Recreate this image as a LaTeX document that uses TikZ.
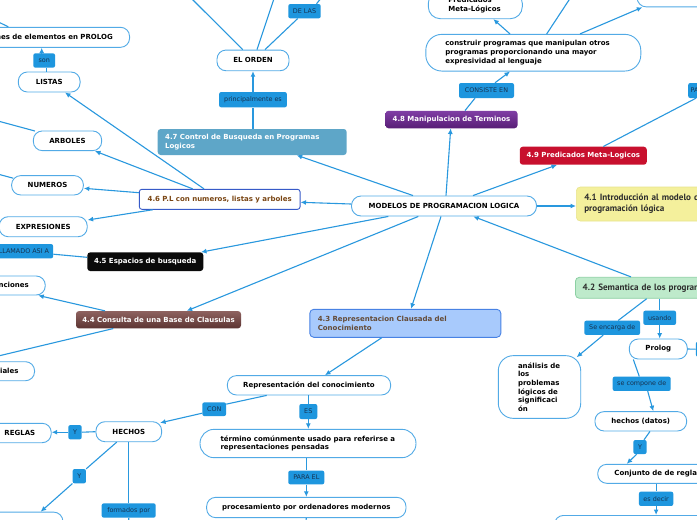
\documentclass[tikz,border=0pt]{standalone}
\usepackage{fontspec}
\newfontfamily\dvfam{DejaVu Sans}
\newfontfamily\ptfam{PT Sans}
\usetikzlibrary{arrows.meta,calc}
\definecolor{linecol}{RGB}{41,152,222}
\definecolor{nodeborder}{RGB}{82,170,230}
\definecolor{labblue}{RGB}{30,150,222}
\definecolor{labtext}{RGB}{22,50,80}
\definecolor{tealc}{RGB}{94,166,200}
\definecolor{purpT}{RGB}{128,62,165}
\definecolor{purpB}{RGB}{88,30,118}
\definecolor{redc}{RGB}{200,16,46}
\definecolor{blackc}{RGB}{10,10,10}
\definecolor{brT}{RGB}{142,98,95}
\definecolor{brB}{RGB}{92,52,50}
\definecolor{lbluec}{RGB}{168,202,252}
\definecolor{lblueb}{RGB}{72,130,228}
\definecolor{tfortythree}{RGB}{100,75,55}
\definecolor{yelc}{RGB}{244,240,156}
\definecolor{yelb}{RGB}{232,228,140}
\definecolor{greenc}{RGB}{190,234,203}
\definecolor{greenb}{RGB}{140,208,163}
\definecolor{darktext}{RGB}{45,45,45}
\definecolor{tfortysixb}{RGB}{55,90,200}
\definecolor{browntext}{RGB}{122,70,20}
\newcommand\mapfont{\dvfam\bfseries\fontsize{7}{8.7}\selectfont}
\newcommand\labfont{\dvfam\fontsize{6.4}{7.5}\selectfont}
\newcommand\ptbold{\ptfam\bfseries\fontsize{9.1}{11.3}\selectfont}
\begin{document}
\begin{tikzpicture}[x=1pt,y=-1pt,
  mnode/.style={draw=nodeborder, fill=white, line width=0.9pt, rounded corners=9pt,
     font=\mapfont, text=black, inner sep=0pt, align=center},
  lab/.style={fill=labblue, rounded corners=2pt, font=\labfont, text=labtext, inner sep=0pt},
  topicbox/.style={rounded corners=3pt, font=\mapfont, inner sep=0pt, align=center},
  conn/.style={draw=linecol, line width=1.1pt},
  arr/.style={conn, -{Latex[length=5.5pt,width=5pt]}}]
\clip (0,0) rectangle (697,520);
\fill[white] (0,0) rectangle (697,520);

% central and top-level topics
\node[mnode, rounded corners=9.5pt, minimum width=185pt, minimum height=20pt] (central) at (444,206) {MODELOS DE PROGRAMACION LOGICA};
\node[fill=yelc, draw=yelb, line width=0.6pt, rounded corners=4pt, font=\ptbold, text=darktext, anchor=west, inner xsep=8pt, inner ysep=0pt, text width=190pt, align=left, minimum height=34pt] (t41) at (576,204) {4.1 Introducción al modelo de\\programación lógica};
\node[topicbox, fill=redc, text=white, minimum width=127pt, minimum height=18pt] (t49) at (583.3,155.7) {4.9 Predicados Meta-Logicos};
\node[lab, anchor=west, inner xsep=2.5pt, minimum height=15pt] (labP) at (688,90.5) {PARA};
\node[topicbox, top color=purpT, bottom color=purpB, text=white, minimum width=132pt, minimum height=17.5pt] (t48) at (451.5,119.5) {4.8 Manipulacion de Terminos};
\node[lab, minimum width=55pt, minimum height=15pt] (labCons) at (486.5,90.5) {CONSISTE EN};
\node[mnode, rounded corners=16pt, text width=176pt, align=left, inner xsep=19.5pt, minimum height=36.7pt] (constr) at (533.3,52.7) {construir programas que manipulan otros\\programas proporcionando una mayor\\expresividad al lenguaje};
\node[mnode, rounded corners=12pt, text width=54pt, align=left, inner xsep=20pt, minimum height=27.4pt] (predm) at (475.3,5) {Predicados\\Meta-Lógicos};
\node[mnode, anchor=south west, minimum width=110pt, minimum height=20pt] (ansN) at (636.7,7.3) {};
\coordinate (c4) at (571,-3);

\node[topicbox, fill=tealc, text=white, text width=174pt, align=left, inner xsep=7.5pt, minimum height=26pt] (t47) at (252.2,142) {4.7 Control de Busqueda en Programas\\Logicos};
\node[lab, minimum width=67.7pt, minimum height=15.3pt] (labPrinc) at (253,99.7) {principalmente es};
\node[mnode, minimum width=72pt, minimum height=20.7pt] (elOrden) at (253,60.4) {EL ORDEN};
\node[lab, minimum width=32.4pt, minimum height=14.3pt] (labDeLas) at (304.5,11.2) {DE LAS};
\coordinate (c1) at (190,-3);
\coordinate (c2) at (274.5,-3);
\coordinate (c3) at (322,-3);

\node[mnode, draw=tfortysixb, rounded corners=2.5pt, text=browntext, minimum width=160.7pt, minimum height=20pt] (t46) at (219.7,199.3) {4.6 P.L con numeros, listas y arboles};
\node[mnode, minimum width=61.7pt, minimum height=20pt] (listas) at (49.2,82) {LISTAS};
\node[lab, minimum width=21.7pt, minimum height=14.3pt] (labSon) at (44.2,60.5) {son};
\node[mnode, anchor=east, inner xsep=16.7pt, minimum height=20pt] (colecc) at (130,37.3) {Colecciones de elementos en PROLOG};
\node[mnode, minimum width=68.3pt, minimum height=19.7pt] (arbol) at (67.5,140.8) {ARBOLES};
\node[mnode, minimum width=71.7pt, minimum height=19.3pt] (numer) at (47.5,185.3) {NUMEROS};
\node[mnode, minimum width=88pt, minimum height=20pt] (expr) at (43.2,226.7) {EXPRESIONES};
\coordinate (cL1) at (-5,20.3);
\coordinate (cL2) at (-5,120.2);
\coordinate (cL3) at (-5,173.3);

\node[topicbox, fill=blackc, text=white, minimum width=116pt, minimum height=18.7pt] (t45) at (145.3,261.7) {4.5 Espacios de busqueda};
\node[lab, anchor=east, inner xsep=4pt, minimum height=14.3pt] (labLl) at (53.3,251.2) {LLAMADO ASI A};

\node[topicbox, top color=brT, bottom color=brB, text=white, minimum width=165pt, minimum height=17.3pt] (t44) at (158.5,319.7) {4.4 Consulta de una Base de Clausulas};
\node[mnode, anchor=east, inner xsep=16.4pt, minimum height=19pt] (conj) at (45.7,285.5) {Conjunciones};
\node[mnode, anchor=east, inner xsep=16pt, minimum height=19pt] (exist) at (35,371.2) {Existenciales};
\coordinate (cL4) at (-8,357.5);

\node[topicbox, fill=lbluec, draw=lblueb, line width=0.9pt, rounded corners=4pt, text=tfortythree, text width=175pt, align=left, inner xsep=8pt, minimum height=28pt] (t43) at (405.3,323.3) {4.3 Representacion Clausada del\\Conocimiento};
\node[mnode, minimum width=163.3pt, minimum height=19.3pt] (rep) at (309,385.3) {Representación del conocimiento};
\node[lab, minimum width=23.7pt, minimum height=13.7pt] (labCon) at (214.2,409.2) {CON};
\node[lab, minimum width=18pt, minimum height=15pt] (labEs) at (308.3,411.5) {ES};
\node[mnode, rounded corners=14pt, text width=175pt, align=left, inner xsep=20.5pt, minimum height=28.3pt] (term) at (308,443.5) {término comúnmente usado para referirse a\\representaciones pensadas};
\node[lab, minimum width=36pt, minimum height=13.7pt] (labPara) at (306.3,477.5) {PARA EL};
\node[mnode, minimum width=199.3pt, minimum height=20.3pt] (proc) at (306.3,507.5) {procesamiento por ordenadores modernos};
\coordinate (c6) at (305,530);

\node[mnode, minimum width=65.7pt, minimum height=20pt] (hechos) at (128.8,431.7) {HECHOS};
\node[lab, minimum width=13.3pt, minimum height=14.3pt] (labY1) at (75,432.2) {Y};
\node[mnode, anchor=east, inner xsep=16pt, minimum height=19.4pt] (reglas) at (51.7,433) {REGLAS};
\node[lab, minimum width=13.3pt, minimum height=14.3pt] (labY2) at (79.3,476.2) {Y};
\node[mnode, anchor=north east, minimum width=110pt, minimum height=20pt] (bl) at (63.3,511.7) {};
\node[lab, minimum width=54pt, minimum height=14.3pt] (labForm) at (128.7,510.5) {formados por};
\coordinate (c7) at (129,530);

\node[fill=greenc, draw=greenb, line width=0.8pt, rounded corners=4pt, font=\ptbold, text=darktext, anchor=west, inner xsep=7.3pt, inner ysep=0pt, minimum height=21pt, text width=190pt, align=left] (t42) at (575,287.8) {4.2 Semantica de los programas};
\node[lab, minimum width=55.7pt, minimum height=14.3pt] (labSe) at (612.2,327.8) {Se encarga de};
\node[lab, minimum width=32.7pt, minimum height=14.3pt] (labUs) at (659.7,317.8) {usando};
\node[mnode, rounded corners=15pt, text width=43pt, align=left, inner xsep=19.7pt, minimum height=62.7pt] (anal) at (539.5,387) {análisis de\\los\\problemas\\lógicos de\\significaci\\ón};
\node[mnode, minimum width=58pt, minimum height=20pt] (prolog) at (658.3,349) {Prolog};
\node[lab, anchor=west, minimum width=30pt, minimum height=15pt] (labPR) at (695.7,349.2) {};
\node[lab, minimum width=58pt, minimum height=14.3pt] (labComp) at (641.7,383.8) {se compone de};
\node[mnode, minimum width=91.7pt, minimum height=19.3pt] (hechosD) at (640.8,421.3) {hechos (datos)};
\node[lab, minimum width=13.3pt, minimum height=14pt] (labY3) at (640,447) {Y};
\node[mnode, anchor=west, inner xsep=16.7pt, minimum height=19pt] (conjR) at (597.3,473.8) {Conjunto de de reglas};
\node[lab, minimum width=34.3pt, minimum height=14.3pt] (labDec) at (656.1,498.8) {es decir};
\node[mnode, anchor=north west, minimum width=200pt, minimum height=20pt] (lastN) at (554,515) {};

% connectors from the central node
\draw[arr] (central.east) -- (central.east -| t41.west);
\draw[arr] ([xshift=29pt]central.north) -- ([xshift=-26.3pt]t49.south);
\draw[arr] ([xshift=2pt]central.north) -- ([xshift=-0.8pt]t48.south);
\draw[arr] ([xshift=-31pt]central.north) -- ([xshift=44.5pt]t47.south);
\draw[arr] ([yshift=2pt]central.west) -- ([yshift=-3pt]t46.east);
\draw[arr] ([xshift=-55.7pt]central.south) -- ([xshift=55.7pt]t45.north);
\draw[arr] ([xshift=-25.7pt]central.south) -- ([xshift=28.2pt]t44.north);
\draw[arr] ([xshift=-3pt]central.south) -- ([xshift=5.7pt]t43.north);
\draw[arr] ([xshift=56pt]t42.north west) -- ([xshift=29.3pt]central.south);

% 4.9 / 4.8 branch
\draw[conn] ([xshift=20pt]t49.north) -- ([xshift=8pt]labP.south west);
\draw[conn] ([xshift=13.5pt]t48.north) -- ([xshift=-11.5pt]labCons.south);
\draw[arr] ([xshift=8.5pt]labCons.north) -- ([xshift=-23.3pt]constr.south);
\draw[arr] ([xshift=-23.3pt]constr.north) -- ([xshift=18pt]predm.south);
\draw[conn] ([xshift=13.4pt]constr.north) -- (c4);
\draw[arr] ([xshift=46.7pt]constr.north) -- ([xshift=5.6pt]ansN.south west);

% 4.7 branch
\draw[conn] (labPrinc.south |- t47.north) -- (labPrinc.south);
\draw[arr] (labPrinc.north) -- (elOrden.south);
\draw[conn] ([xshift=-10.3pt]elOrden.north) -- (c1);
\draw[conn] ([xshift=4pt]elOrden.north) -- (c2);
\draw[conn] ([xshift=12pt]elOrden.north) -- ([xshift=-6.8pt]labDeLas.south);
\draw[conn] ([xshift=12pt]labDeLas.north) -- (c3);

% 4.6 branch
\draw[arr] ([xshift=-15.7pt]t46.north) -- ([xshift=15.8pt]listas.south);
\draw[arr] ([xshift=-27pt]t46.north) -- ([xshift=27.5pt]arbol.south);
\draw[arr] ([yshift=6.6pt]t46.west) -- ([yshift=-3pt]numer.east);
\draw[arr] ([xshift=-67pt]t46.south) -- ([yshift=6.7pt]expr.east);
\draw[conn] ([xshift=-2.5pt]listas.north) -- ([xshift=2.5pt]labSon.south);
\draw[arr] ($(labSon.north)+(-2.5,0)$) -- ($(labSon.north |- colecc.south)+(-2.5,0)$);
\draw[conn] ([xshift=-121.7pt]colecc.north east) -- (cL1);
\draw[conn] ([xshift=2pt,yshift=-0.5pt]arbol.north west) -- (cL2);
\draw[conn] ([xshift=2pt,yshift=-3pt]numer.north west) -- (cL3);

% 4.5 / 4.4 branches
\draw[conn] ([yshift=4.4pt]t45.west) -- ([yshift=-3pt]labLl.east);
\draw[arr] ([xshift=-53.5pt]t44.north) -- ([xshift=-7.4pt]conj.south east);
\draw[conn] ([xshift=-45.2pt]t44.south) -- (cL4);

% 4.3 branch
\draw[arr] ([xshift=-23.6pt]t43.south) -- ([xshift=16pt]rep.north);
\draw[conn] ([xshift=-42.3pt]rep.south) -- ([yshift=-2pt]labCon.north east);
\draw[arr] ([yshift=-4pt]labCon.west) -- ([shift={(-2pt,-1.6pt)}]hechos.north east);
\draw[conn] (labEs.north |- rep.south) -- (labEs.north);
\draw[arr] (labEs.south) -- (labEs.south |- term.north);
\draw[conn] (labPara.north |- term.south) -- (labPara.north);
\draw[arr] (labPara.south) -- (labPara.south |- proc.north);
\draw[conn] (proc.south) -- (c6);
\draw[conn] (hechos.west) -- (labY1.east);
\draw[arr] (labY1.west) -- (labY1.west -| reglas.east);
\draw[conn] ([xshift=-12.1pt]hechos.south) -- (labY2.north east);
\draw[arr] (labY2.south west) -- ([xshift=-22.6pt]bl.north east);
\draw[conn] (labForm.north |- hechos.south) -- (labForm.north);
\draw[conn] (labForm.south) -- (c7);

% 4.2 branch
\draw[conn] ([xshift=71.7pt]t42.south west) -- ([xshift=6pt]labSe.north);
\draw[arr] ([xshift=-9pt]labSe.south) -- ([shift={(-4.5pt,-2pt)}]anal.north east);
\draw[conn] (labUs.north |- t42.south) -- (labUs.north);
\draw[arr] (labUs.south) -- (labUs.south |- prolog.north);
\draw[conn] (prolog.east) -- (labPR.west);
\draw[conn] ([xshift=-25pt]prolog.south) -- ([xshift=-2.4pt]labComp.north);
\draw[arr] ([xshift=6pt]labComp.south) -- ([xshift=12.5pt]hechosD.north);
\draw[conn] ([xshift=9.2pt]hechosD.south) -- ([xshift=4pt]labY3.north);
\draw[arr] ([xshift=-3.3pt]labY3.south) -- ([xshift=29.4pt]conjR.north west);
\draw[conn] (labDec.north |- conjR.south) -- (labDec.north);
\draw[arr] (labDec.south) -- (labDec.south |- lastN.north);
\end{tikzpicture}
\end{document}
